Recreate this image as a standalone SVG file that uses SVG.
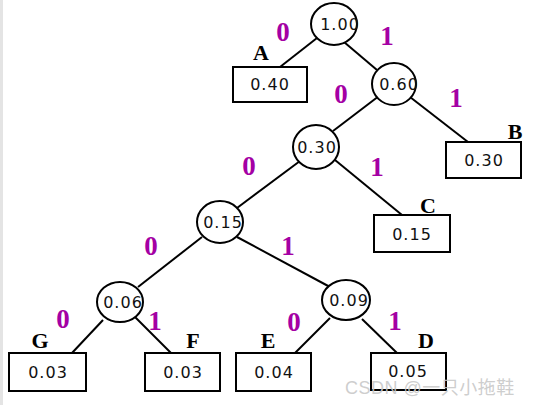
<svg xmlns="http://www.w3.org/2000/svg" width="534" height="405" viewBox="0 0 534 405">
<style>
.edge{stroke:#000;stroke-width:2;fill:none}
.node{fill:#fff;stroke:#000;stroke-width:2}
.num{font-family:"DejaVu Sans",sans-serif;font-size:16px;letter-spacing:1px;fill:#111;text-anchor:middle}
.lbl{font-family:"Liberation Serif",serif;font-size:22px;font-weight:bold;fill:#000;text-anchor:middle}
.bit{font-family:"Liberation Serif",serif;font-size:27px;font-weight:bold;fill:#a400a4;text-anchor:middle}
.wm{font-family:"Liberation Sans","Noto Sans CJK SC",sans-serif;font-size:18px;letter-spacing:0.5px;fill:#c8c8c8;fill-opacity:0.9}
</style>
<rect width="534" height="405" fill="#fff"/>
<line x1="1.5" y1="0" x2="1.5" y2="405" stroke="#e4e4e4" stroke-width="3"/>
<g id="edges">
<line class="edge" x1="317" y1="38" x2="280" y2="67"/>
<line class="edge" x1="344" y1="42" x2="377" y2="70"/>
<line class="edge" x1="379" y1="96" x2="333" y2="131"/>
<line class="edge" x1="410" y1="97" x2="468" y2="142"/>
<line class="edge" x1="300" y1="161" x2="237" y2="208"/>
<line class="edge" x1="335" y1="160" x2="402" y2="215"/>
<line class="edge" x1="202" y1="237" x2="138" y2="287"/>
<line class="edge" x1="237" y1="237" x2="330" y2="287"/>
<line class="edge" x1="103" y1="320" x2="72" y2="353"/>
<line class="edge" x1="135" y1="317" x2="171" y2="353"/>
<line class="edge" x1="330" y1="318" x2="295" y2="353"/>
<line class="edge" x1="362" y1="319" x2="397" y2="353"/>
</g>
<g id="n100"><ellipse class="node" cx="334" cy="24" rx="23" ry="21"/><text class="num" x="340" y="30">1.00</text></g>
<g id="n060"><ellipse class="node" cx="394" cy="84" rx="22" ry="21"/><text class="num" x="399" y="90">0.60</text></g>
<g id="n030"><ellipse class="node" cx="316" cy="147" rx="23" ry="22"/><text class="num" x="317" y="153">0.30</text></g>
<g id="n015"><ellipse class="node" cx="220" cy="222" rx="23" ry="21"/><text class="num" x="223" y="228">0.15</text></g>
<g id="n006"><ellipse class="node" cx="120" cy="302" rx="23" ry="20"/><text class="num" x="123" y="308">0.06</text></g>
<g id="n009"><ellipse class="node" cx="346" cy="300" rx="24" ry="20"/><text class="num" x="349" y="306">0.09</text></g>
<g id="A"><rect class="node" x="233" y="67" width="74" height="35"/><text class="num" x="270" y="90">0.40</text><text class="lbl" x="261" y="60">A</text></g>
<g id="B"><rect class="node" x="446" y="142" width="75" height="36"/><text class="num" x="484" y="166">0.30</text><text class="lbl" x="515" y="139">B</text></g>
<g id="C"><rect class="node" x="374" y="215" width="76" height="37"/><text class="num" x="412" y="240">0.15</text><text class="lbl" x="428" y="213">C</text></g>
<g id="G"><rect class="node" x="9" y="353" width="77" height="38"/><text class="num" x="48" y="378">0.03</text><text class="lbl" x="40" y="348">G</text></g>
<g id="F"><rect class="node" x="145" y="353" width="75" height="38"/><text class="num" x="183" y="378">0.03</text><text class="lbl" x="193" y="348">F</text></g>
<g id="E"><rect class="node" x="236" y="353" width="75" height="38"/><text class="num" x="274" y="378">0.04</text><text class="lbl" x="268" y="348">E</text></g>
<g id="D"><rect class="node" x="371" y="353" width="75" height="37"/><text class="num" x="408" y="377">0.05</text><text class="lbl" x="426" y="348">D</text></g>
<g id="bits">
<text class="bit" x="283" y="41">0</text>
<text class="bit" x="387" y="45">1</text>
<text class="bit" x="341" y="103">0</text>
<text class="bit" x="456" y="107">1</text>
<text class="bit" x="249" y="175">0</text>
<text class="bit" x="377" y="176">1</text>
<text class="bit" x="151" y="255">0</text>
<text class="bit" x="288" y="255">1</text>
<text class="bit" x="63" y="328">0</text>
<text class="bit" x="155" y="330">1</text>
<text class="bit" x="294" y="331">0</text>
<text class="bit" x="395" y="330">1</text>
</g>
<text class="wm" x="345" y="394">CSDN @一只小拖鞋</text>
</svg>
